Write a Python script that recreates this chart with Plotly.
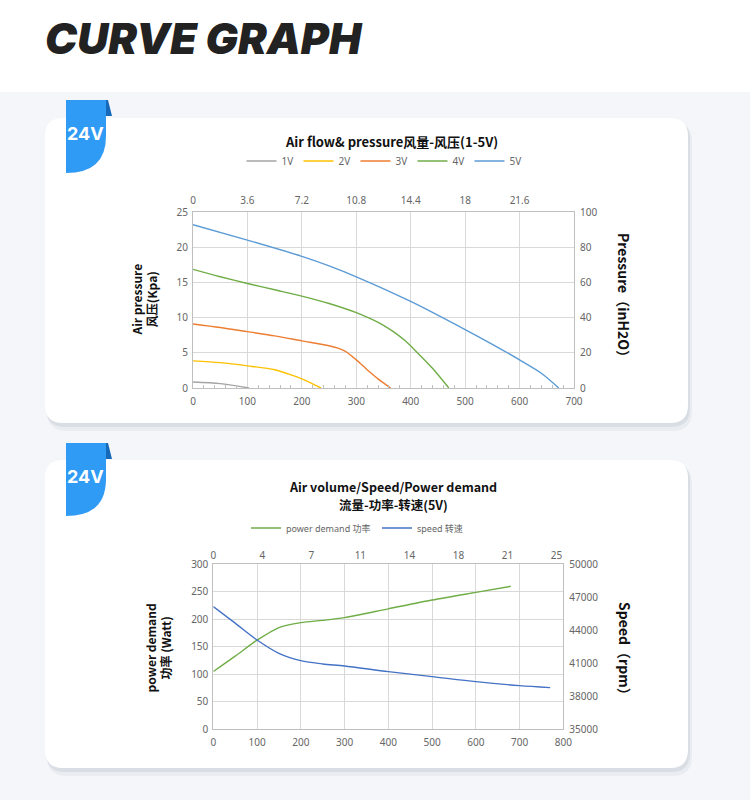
import plotly.graph_objects as go

W, H = 750, 800

# ---------------- data ----------------
# Chart 1: air flow (bottom axis units) vs air pressure (kPa)
flow_1v = [0, 50, 103]
kpa_1v = [0.85, 0.62, 0.0]
flow_2v = [0, 50, 100, 150, 175, 200, 235]
kpa_2v = [3.85, 3.6, 3.15, 2.6, 2.0, 1.3, 0.0]
flow_3v = [0, 50, 100, 150, 200, 250, 265, 280, 300, 320, 340, 363]
kpa_3v = [9.1, 8.6, 8.0, 7.4, 6.7, 6.0, 5.7, 5.2, 4.0, 2.6, 1.3, 0.0]
flow_4v = [0, 50, 100, 150, 200, 250, 300, 330, 350, 370, 390, 410, 440, 470]
kpa_4v = [16.85, 15.8, 14.85, 13.95, 13.05, 12.0, 10.7, 9.7, 8.9, 7.9, 6.7, 5.2, 2.8, 0.0]
flow_5v = [0, 100, 200, 250, 300, 400, 500, 550, 600, 640, 672]
kpa_5v = [23.2, 21.0, 18.7, 17.35, 15.8, 12.3, 8.3, 6.2, 4.0, 2.1, 0.0]
series1 = [
    ("1V", flow_1v, kpa_1v, "#a5a5a5"),
    ("2V", flow_2v, kpa_2v, "#ffc000"),
    ("3V", flow_3v, kpa_3v, "#ed7d31"),
    ("4V", flow_4v, kpa_4v, "#70ad47"),
    ("5V", flow_5v, kpa_5v, "#5b9bd5"),
]
top1_ticks = [0, 3.6, 7.2, 10.8, 14.4, 18, 21.6]
top1_max = 25.2      # top axis value at the right edge (700)
right1_max = 100     # inH2O at 25 kPa

# Chart 2: air volume vs power demand (W) and speed (rpm)
vol_power = [0, 50, 100, 150, 200, 250, 300, 400, 500, 600, 680]
power_w = [105, 133, 162, 185, 194, 198, 203, 219, 235, 249, 260]
vol_speed = [0, 50, 100, 150, 200, 250, 300, 400, 500, 600, 700, 770]
speed_rpm = [46150, 44650, 43120, 41910, 41240, 40940, 40760, 40240, 39790, 39330, 38970, 38790]
top2_ticks = [0, 25 / 7, 50 / 7, 75 / 7, 100 / 7, 125 / 7, 150 / 7, 25]
top2_max = 25.5


def fx(p):
    return p / W


def fy(p):
    return 1 - p / H


def rrect(x0, y0, x1, y1, r):
    pts = [
        f"M {fx(x0 + r)},{fy(y0)}",
        f"L {fx(x1 - r)},{fy(y0)}",
        f"Q {fx(x1)},{fy(y0)} {fx(x1)},{fy(y0 + r)}",
        f"L {fx(x1)},{fy(y1 - r)}",
        f"Q {fx(x1)},{fy(y1)} {fx(x1 - r)},{fy(y1)}",
        f"L {fx(x0 + r)},{fy(y1)}",
        f"Q {fx(x0)},{fy(y1)} {fx(x0)},{fy(y1 - r)}",
        f"L {fx(x0)},{fy(y0 + r)}",
        f"Q {fx(x0)},{fy(y0)} {fx(x0 + r)},{fy(y0)}",
        "Z",
    ]
    return " ".join(pts)


def badge(top):
    return (f"M {fx(66)},{fy(top)} L {fx(106)},{fy(top)} L {fx(106)},{fy(top + 36)} "
            f"Q {fx(106)},{fy(top + 73)} {fx(66)},{fy(top + 73)} Z")


def fold(top):
    return (f"M {fx(105)},{fy(top)} L {fx(108)},{fy(top)} L {fx(112)},{fy(top + 16)} "
            f"L {fx(106)},{fy(top + 16)} Z")


fig = go.Figure()

for name, xs, ys, col in series1:
    fig.add_trace(go.Scatter(x=xs, y=ys, name=name, mode="lines",
                             line=dict(color=col, width=1.4, shape="spline", smoothing=0.8),
                             xaxis="x", yaxis="y", legend="legend"))
# secondary (top / right) unit axes for chart 1, carried by a transparent copy of the 5V curve
fig.add_trace(go.Scatter(x=[f * top1_max / 700 for f in flow_5v],
                         y=[k * right1_max / 25 for k in kpa_5v],
                         mode="lines", opacity=0, showlegend=False, hoverinfo="skip",
                         xaxis="x2", yaxis="y2"))

fig.add_trace(go.Scatter(x=vol_power, y=power_w, name="power demand 功率", mode="lines",
                         line=dict(color="#70ad47", width=1.4, shape="spline", smoothing=0.8),
                         xaxis="x3", yaxis="y3", legend="legend2"))
fig.add_trace(go.Scatter(x=vol_speed, y=speed_rpm, name="speed 转速", mode="lines",
                         line=dict(color="#4472c4", width=1.4, shape="spline", smoothing=0.8),
                         xaxis="x3", yaxis="y4", legend="legend2"))
fig.add_trace(go.Scatter(x=[v * top2_max / 800 for v in vol_power], y=power_w,
                         mode="lines", opacity=0, showlegend=False, hoverinfo="skip",
                         xaxis="x4", yaxis="y3"))

tickf = dict(family="Noto Sans, Noto Sans CJK SC", size=10, color="#666666")
grid = "#d9d9d9"
border = "#bfbfbf"

shapes = []
# page background
shapes.append(dict(type="rect", xref="paper", yref="paper", x0=0, x1=1, y0=0, y1=fy(92),
                   fillcolor="#f4f6f9", line_width=0, layer="below"))
for (t, b) in [(118, 423), (460, 768)]:
    shapes.append(dict(type="path", xref="paper", yref="paper", path=rrect(47, t + 4, 692, b + 8, 20),
                       fillcolor="rgba(170,178,192,0.14)", line_width=0, layer="below"))
    shapes.append(dict(type="path", xref="paper", yref="paper", path=rrect(46, t + 2, 690, b + 4, 19),
                       fillcolor="rgba(170,178,192,0.25)", line_width=0, layer="below"))
    shapes.append(dict(type="path", xref="paper", yref="paper", path=rrect(45, t, 688, b, 18),
                       fillcolor="#ffffff", line_width=0, layer="below"))
for top in (100, 443):
    shapes.append(dict(type="path", xref="paper", yref="paper", path=fold(top),
                       fillcolor="#1668b8", line_width=0, layer="below"))
    shapes.append(dict(type="path", xref="paper", yref="paper", path=badge(top),
                       fillcolor="#2f9bf4", line_width=0, layer="below"))

bold = "Noto Sans CJK SC"
ann = []
ann.append(dict(text="CURVE GRAPH", x=fx(43), y=fy(38), xref="paper", yref="paper",
                xanchor="left", yanchor="middle", showarrow=False,
                font=dict(family="Inter", size=43, color="#222222", weight=900, style="italic")))
for top in (100, 443):
    ann.append(dict(text="24V", x=fx(85.5), y=fy(top + 33), xref="paper", yref="paper",
                    xanchor="center", yanchor="middle", showarrow=False,
                    font=dict(family="Inter", size=18, color="#ffffff", weight=700)))
ann.append(dict(text="<b>Air flow& pressure风量-风压(1-5V)</b>", x=fx(392), y=fy(141),
                xref="paper", yref="paper", showarrow=False, xanchor="center", yanchor="middle",
                font=dict(family=bold, size=13, color="#111111")))
ann.append(dict(text="<b>Air volume/Speed/Power demand</b>", x=fx(393), y=fy(486),
                xref="paper", yref="paper", showarrow=False, xanchor="center", yanchor="middle",
                borderpad=0, font=dict(family=bold, size=12.5, color="#111111")))
ann.append(dict(text="<b>流量-功率-转速(5V)</b>", x=fx(393), y=fy(504.5),
                xref="paper", yref="paper", showarrow=False, xanchor="center", yanchor="middle",
                borderpad=0, font=dict(family=bold, size=12.5, color="#111111")))
ann.append(dict(text="<b>Air pressure<br>风压(Kpa)</b>", x=fx(143.5), y=fy(300), textangle=-90,
                xref="paper", yref="paper", showarrow=False, xanchor="center", yanchor="middle",
                font=dict(family=bold, size=12, color="#111111")))
ann.append(dict(text="<b>Pressure（inH2O）</b>", x=fx(624), y=fy(298), textangle=90,
                xref="paper", yref="paper", showarrow=False, xanchor="center", yanchor="middle",
                font=dict(family=bold, size=14, color="#111111")))
ann.append(dict(text="<b>power demand<br>功率 (Watt)</b>", x=fx(157.5), y=fy(648), textangle=-90,
                xref="paper", yref="paper", showarrow=False, xanchor="center", yanchor="middle",
                font=dict(family=bold, size=12, color="#111111")))
ann.append(dict(text="<b>Speed（rpm）</b>", x=fx(625), y=fy(652), textangle=90,
                xref="paper", yref="paper", showarrow=False, xanchor="center", yanchor="middle",
                font=dict(family=bold, size=14, color="#111111")))

common = dict(showgrid=True, gridcolor=grid, gridwidth=1, showline=True, linecolor=border,
              linewidth=1, mirror=True, tickfont=tickf, zeroline=False, ticks="",
              fixedrange=True, automargin=False)
second = dict(showgrid=False, showline=False, zeroline=False, tickfont=tickf, ticks="",
              fixedrange=True, automargin=False)

fig.update_layout(
    width=W, height=H, margin=dict(l=0, r=0, t=0, b=0, pad=0, autoexpand=False),
    paper_bgcolor="#ffffff", plot_bgcolor="rgba(0,0,0,0)",
    shapes=shapes, annotations=ann,
    xaxis=dict(domain=[fx(193), fx(574)], anchor="y", range=[0, 700], dtick=100,
               ticklabelstandoff=4,
               minor=dict(ticks="inside", dtick=20, ticklen=3, tickcolor=border, showgrid=False),
               **common),
    yaxis=dict(domain=[fy(388), fy(212)], anchor="x", range=[0, 25], dtick=5,
               ticklabelstandoff=2, **common),
    xaxis2=dict(overlaying="x", side="top", anchor="y", range=[0, top1_max], tickvals=top1_ticks,
                ticklabelstandoff=5, **second),
    yaxis2=dict(overlaying="y", side="right", anchor="x", range=[0, right1_max], dtick=20,
                ticklabelstandoff=5, **second),
    xaxis3=dict(domain=[fx(213.3), fx(563.3)], anchor="y3", range=[0, 800], dtick=100,
                ticklabelstandoff=4, **common),
    yaxis3=dict(domain=[fy(729.3), fy(564.3)], anchor="x3", range=[0, 300], dtick=50,
                ticklabelstandoff=2, **common),
    xaxis4=dict(overlaying="x3", side="top", anchor="y3", range=[0, top2_max], tickvals=top2_ticks,
                tickformat=".0f", ticklabelstandoff=2, **second),
    yaxis4=dict(overlaying="y3", side="right", anchor="x3", range=[35000, 50000], tick0=35000,
                dtick=3000, tickformat="d", ticklabelstandoff=5, **second),
    legend=dict(orientation="h", x=fx(384), y=fy(161), xanchor="center", yanchor="middle",
                font=dict(family="Noto Sans, Noto Sans CJK SC", size=10, color="#666666"),
                bgcolor="rgba(0,0,0,0)", itemwidth=30, entrywidth=12, entrywidthmode="pixels"),
    legend2=dict(orientation="h", x=fx(377), y=fy(528), xanchor="center", yanchor="middle",
                 font=dict(family="Noto Sans, Noto Sans CJK SC", size=9, color="#666666"),
                 bgcolor="rgba(0,0,0,0)", itemwidth=30, entrywidth=86, entrywidthmode="pixels"),
)

fig.write_html("out.html")
